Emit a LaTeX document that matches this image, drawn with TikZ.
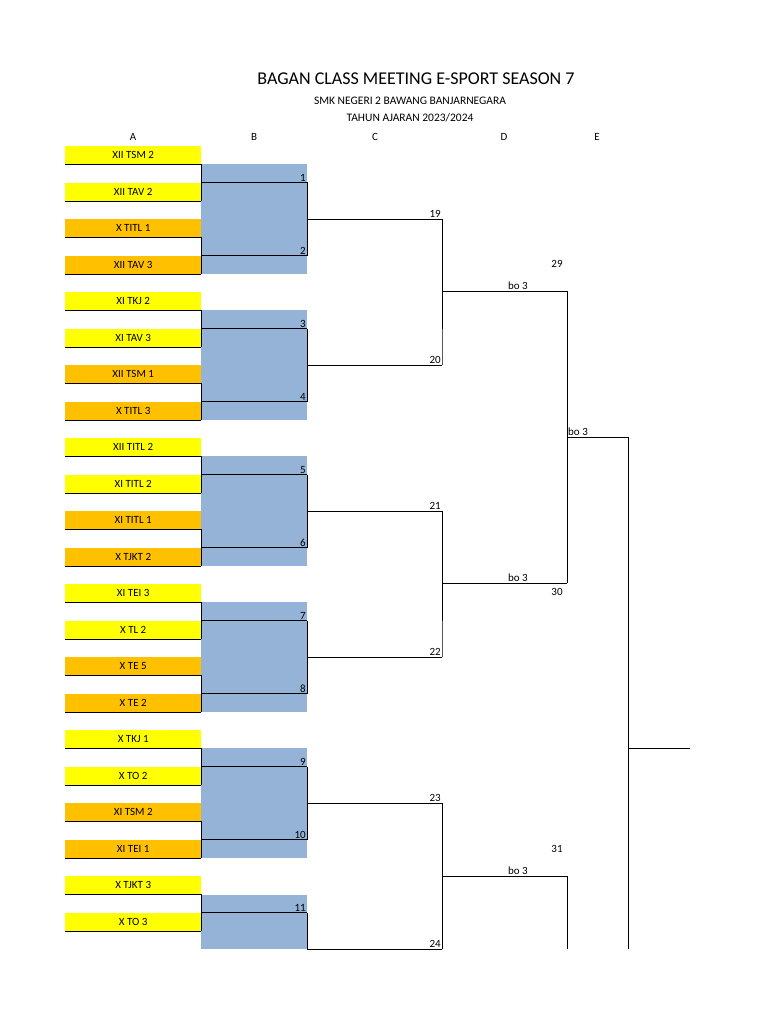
\documentclass[tikz,border=0pt]{standalone}
\usepackage{fontspec}
\setmainfont{Carlito}
\usetikzlibrary{positioning,calc}
\definecolor{teamy}{HTML}{FFFF00}
\definecolor{teamo}{HTML}{FFC000}
\definecolor{pool}{HTML}{95B3D7}
\newcommand{\team}[4]{\node[team,fill=#2,anchor=north west] (#1) at (65,#3) {#4};
  \draw (#1.south west) -- (#1.south east);}

\begin{document}
\begin{tikzpicture}[x=1pt,y=-1pt,
      team/.style={rectangle,draw=none,minimum width=136pt,minimum height=18pt,inner sep=0pt,font=\fontsize{11}{12}\selectfont},
      lbl/.style={font=\fontsize{11}{12}\selectfont,inner sep=1pt},
      head/.style={font=\fontsize{11}{12}\selectfont},
      bracket/.style={draw=black,line width=0.7pt}
      ]
      \useasboundingbox[fill=white] (0,0) rectangle (768,1024);
      % titles
      \node[font=\fontsize{18}{20}\selectfont] (title) at (416,79) {BAGAN CLASS MEETING E-SPORT SEASON 7};
      \node[font=\fontsize{11.5}{13}\selectfont] (school) at (410,101) {SMK NEGERI 2 BAWANG BANJARNEGARA};
      \node[font=\fontsize{11.5}{13}\selectfont] (year) at (410,118) {TAHUN AJARAN 2023/2024};
      \node[head] (colA) at (133,137) {A};
      \node[head] (colB) at (254,137) {B};
      \node[head] (colC) at (375,137) {C};
      \node[head] (colD) at (504,137) {D};
      \node[head] (colE) at (597,137) {E};
      % blue blocks
      \foreach \g in {0,...,4}
        \fill[pool] (201,146+146*\g+18) rectangle (307,146+146*\g+127.5);
      \fill[pool] (201,895) rectangle (307,949);
      % teams
      \team{t1}{teamy}{146}{XII TSM 2}
      \team{t2}{teamy}{182.5}{XII TAV 2}
      \team{t3}{teamo}{219}{X TITL 1}
      \team{t4}{teamo}{255.5}{XII TAV 3}
      \team{t5}{teamy}{292}{XI TKJ 2}
      \team{t6}{teamy}{328.5}{XI TAV 3}
      \team{t7}{teamo}{365}{XII TSM 1}
      \team{t8}{teamo}{401.5}{X TITL 3}
      \team{t9}{teamy}{438}{XII TITL 2}
      \team{t10}{teamy}{474.5}{XI TITL 2}
      \team{t11}{teamo}{511}{XI TITL 1}
      \team{t12}{teamo}{547.5}{X TJKT 2}
      \team{t13}{teamy}{584}{XI TEI 3}
      \team{t14}{teamy}{620.5}{X TL 2}
      \team{t15}{teamo}{657}{X TE 5}
      \team{t16}{teamo}{693.5}{X TE 2}
      \team{t17}{teamy}{730}{X TKJ 1}
      \team{t18}{teamy}{766.5}{X TO 2}
      \team{t19}{teamo}{803}{XI TSM 2}
      \team{t20}{teamo}{839.5}{XI TEI 1}
      \team{t21}{teamy}{876}{X TJKT 3}
      \team{t22}{teamy}{912.5}{X TO 3}
      % first round
      \foreach \m in {1,...,11}{
        \pgfmathtruncatemacro{\a}{2*\m-1}
        \pgfmathtruncatemacro{\b}{2*\m}
        \coordinate (m\m) at (307,{146+73*(\m-1)+36.5});
        \draw[bracket] (t\a.south east) -- (t\b.north east) -- (m\m);
        \draw[bracket] (t\b.north east) -- (t\b.south east);
        \node[lbl,anchor=south east] (n\m) at (m\m) {\m};
      }
      % second round
      \foreach \g/\k in {0/19,1/20,2/21,3/22,4/23}{
        \pgfmathtruncatemacro{\a}{2*\g+1}
        \pgfmathtruncatemacro{\b}{2*\g+2}
        \coordinate (r\k) at (442,{146+146*\g+73});
        \draw[bracket] (m\a) -- (m\b);
        \draw[bracket] ($(m\a)!0.5!(m\b)$) -- (r\k);
        \node[lbl,anchor=south east] (n\k) at (r\k) {\k};
      }
      \coordinate (r24) at (442,949);
      \draw[bracket] (m11) -- (307,949) -- (r24);
      \node[lbl,anchor=south east] (n24) at (r24) {24};
      % quarter
      \coordinate (q29) at (567,291);
      \coordinate (q30) at (567,583);
      \coordinate (q31) at (567,876);
      \draw[bracket] (r19) -- (r20) |- (q29);
      \draw[bracket] (r21) -- (r22) |- (q30);
      \draw[bracket] (r23) -- (r24);
      \draw[bracket] (442,876) -- (q31) -- (567,949);
      \node[lbl,anchor=south] (bo1) at (518,291) {bo 3};
      \node[lbl,anchor=south] (bo2) at (518,583) {bo 3};
      \node[lbl,anchor=south] (bo3) at (518,876) {bo 3};
      \node[lbl] (n29) at (557,264) {29};
      \node[lbl] (n30) at (557,592) {30};
      \node[lbl] (n31) at (557,849) {31};
      % semi
      \coordinate (s1) at (628,437);
      \coordinate (fin) at (690,748);
      \draw[bracket] (q29) -- (q30);
      \draw[bracket] (567,437) -- (s1) -- (628,949);
      \draw[bracket] (628,748) -- (fin);
      \node[lbl,anchor=south west] (bo4) at (567,437) {bo 3};
\end{tikzpicture}
\end{document}
